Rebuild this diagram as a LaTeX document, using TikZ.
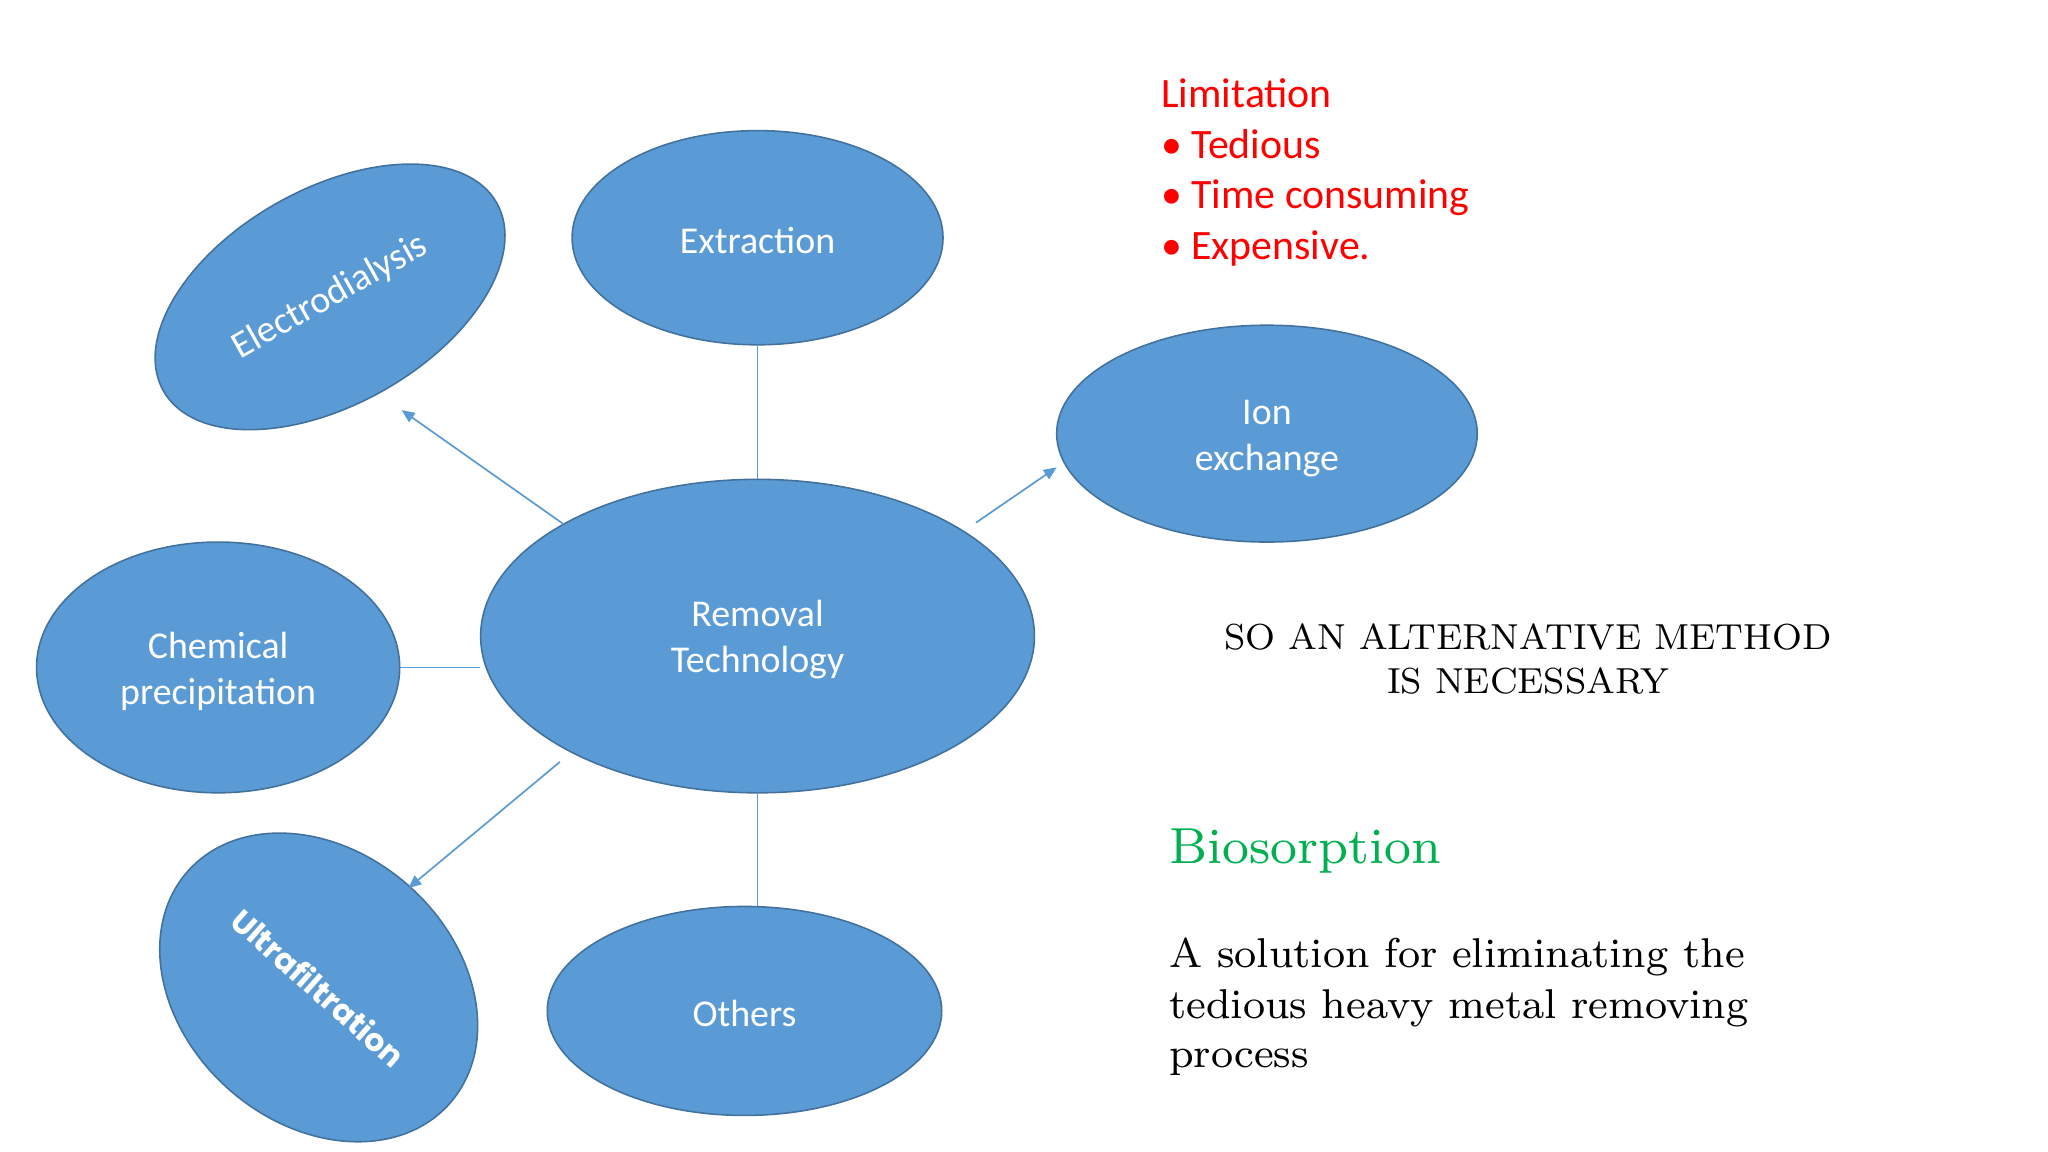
\documentclass[tikz,border=0pt]{standalone}
\usepackage{fontspec}
\usetikzlibrary{shapes.geometric,arrows.meta,backgrounds}
\newfontfamily\calfont{Carlito}
\newfontfamily\popfont{Poppins}
\newfontfamily\lmeight{lmroman8-regular.otf}
\definecolor{fillb}{HTML}{5B9BD5}
\definecolor{edgeb}{HTML}{41719C}
\definecolor{redt}{HTML}{FF0000}
\definecolor{greent}{HTML}{00B050}
\newcommand\lowone[1]{\raisebox{-2pt}[\height][\depth]{#1}}
\newcommand\lowtwo[2]{\raisebox{-3.5pt}[\height][\depth]{\begin{tabular}{@{}c@{}}#1\\#2\end{tabular}}}
\tikzset{
  bub/.style={ellipse, draw=edgeb, fill=fillb, line width=1.2pt, inner sep=0pt,
    text=white, font=\calfont\fontsize{29}{35}\selectfont, align=center},
  conn/.style={draw=fillb, line width=1pt},
  arr/.style={draw=fillb, line width=1.3pt, -{Triangle[length=10pt,width=8.5pt]}},
  txt/.style={inner sep=0pt, anchor=base west},
  redtxt/.style={txt, text=redt, font=\calfont\fontsize{32}{39}\selectfont},
  blktxt/.style={inner sep=0pt, anchor=base, font=\lmeight\fontsize{27.7}{34}\selectfont},
  partxt/.style={txt, font=\lmeight\fontsize{31.9}{39}\selectfont}
}
\begin{document}
\begin{tikzpicture}[x=1pt,y=-1pt]
\useasboundingbox (0,0) rectangle (1568,882);

% bubbles
\node[bub, minimum width=284pt, minimum height=164pt] (ext) at (580,182) {\lowone{Extraction}};
\node[bub, minimum width=322pt, minimum height=166pt] (ion) at (970,332) {\lowtwo{Ion}{exchange}};
\node[bub, minimum width=424pt, minimum height=240pt] (rem) at (580,487) {\lowtwo{Removal}{Technology}};
\node[bub, minimum width=278pt, minimum height=192pt] (chem) at (167,511) {\lowtwo{Chemical}{precipitation}};
\node[bub, minimum width=302pt, minimum height=160pt] (oth) at (570,774) {\lowone{Others}};
\node[bub, minimum width=293pt, minimum height=165pt, rotate=29.4] (ed) at (252.7,227.3) {Electrodialysis};
\node[bub, minimum width=268pt, minimum height=208pt, rotate=-41.6,
      font=\popfont\bfseries\fontsize{24}{29}\selectfont] (uf) at (244,756) {Ultrafiltration};

% plain connectors
\begin{pgfonlayer}{background}
\draw[conn] (ext) -- (rem);
\draw[conn] (chem.east) -- (chem.east -| rem.west);
\draw[conn] (rem.south) -- (rem.south |- oth.north);
\end{pgfonlayer}

% arrows
\coordinate (edtip) at (307.5,314);
\coordinate (iontip) at (809,357.8);
\coordinate (uftip) at (312.6,680);
\draw[arr] (rem.150.2) -- (edtip);
\draw[arr, shorten <=11pt] (rem.27.1) -- (iontip);
\draw[arr, shorten <=11pt] (rem.212.6) -- (uftip);

% limitation list
\node[redtxt] (lim) at (889,82) {Limitation};
\node[redtxt] (b1) at (889,121) {•};
\node[redtxt] (l1) at (912,121) {Tedious};
\node[redtxt] (b2) at (889,160) {•};
\node[redtxt] (l2) at (912,160) {Time consuming};
\node[redtxt] (b3) at (889,199) {•};
\node[redtxt] (l3) at (912,199) {Expensive.};

% conclusion
\node[blktxt] (so1) at (1170,497) {SO AN ALTERNATIVE METHOD};
\node[blktxt] (so2) at (1170,531) {IS NECESSARY};

\node[txt, text=greent, font=\lmeight\fontsize{38.8}{46}\selectfont] (bio) at (895,661) {Biosorption};
\node[partxt] (p1) at (895,740.5) {A solution for eliminating the};
\node[partxt] (p2) at (895,779.5) {tedious heavy metal removing};
\node[partxt] (p3) at (895,817.5) {process};
\end{tikzpicture}
\end{document}
